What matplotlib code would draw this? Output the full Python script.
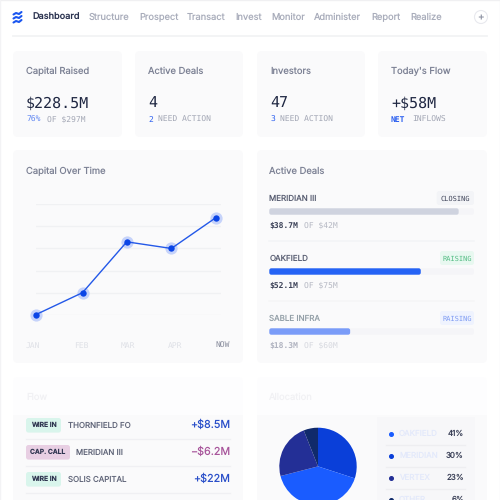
# recreate fund dashboard mockup
import matplotlib
matplotlib.use("Agg")
import matplotlib.pyplot as plt
from matplotlib.patches import FancyBboxPatch, Circle

plt.rcParams["text.hinting"] = "no_hinting"
plt.rcParams["text.hinting_factor"] = 1

SANS = "Inter"
MONO = "DejaVu Sans Mono"
PX = 0.72  # px -> pt at dpi 100

# nav
nav_items = ["Dashboard", "Structure", "Prospect", "Transact", "Invest", "Monitor", "Administer", "Report", "Realize"]

# stat cards
stat_titles = ["Capital Raised", "Active Deals", "Investors", "Today's Flow"]
stat_values = ["$228.5M", "4", "47", "+$58M"]
stat_accent = ["76%", "2", "3", "NET"]
stat_rest = ["OF $297M", "NEED ACTION", "NEED ACTION", "INFLOWS"]

# line chart
months = ["JAN", "FEB", "MAR", "APR", "NOW"]
month_pos = [0, 1.04, 2.02, 3.01, 4.0]
capital = [0, 50, 165, 150, 220]
grid_levels = [0, 50, 100, 150, 200, 250]

# deals
deal_names = ["MERIDIAN III", "OAKFIELD", "SABLE INFRA"]
deal_pct = [92.5, 74, 39.5]
deal_raised = ["$38.7M", "$52.1M", "$18.3M"]
deal_target = ["OF $42M", "OF $75M", "OF $60M"]
deal_status = ["CLOSING", "RAISING", "RAISING"]

# flow
flow_types = ["WIRE IN", "CAP. CALL", "WIRE IN"]
flow_names = ["THORNFIELD FO", "MERIDIAN III", "SOLIS CAPITAL"]
flow_amounts = ["+$8.5M", "\u2212$6.2M", "+$22M"]

# allocation
alloc_names = ["OAKFIELD", "MERIDIAN", "VERTEX", "OTHER"]
alloc_legend_pct = ["41%", "30%", "23%", "6%"]
pie_values = [30, 41, 23, 6]

fig = plt.figure(figsize=(5, 5), dpi=100, facecolor="white")
page = fig.add_axes([0, 0, 1, 1])
page.set_xlim(0, 500)
page.set_ylim(500, 0)
page.axis("off")


def box(x0, y0, x1, y1, color, r=5, z=1):
    page.add_patch(FancyBboxPatch((x0, y0), x1 - x0, y1 - y0, boxstyle=f"round,pad=0,rounding_size={r}",
                                  fc=color, ec="none", zorder=z))


def txt(x, y, s, px, color, font=SANS, weight="normal", ha="left", z=5):
    # mono glyphs sit a bit high with va=center
    if font == MONO:
        y += 0.8
    return page.text(x, y, s, fontsize=px * PX, color=color, family=font, weight=weight,
                     ha=ha, va="center", zorder=z)


def sub_axes(x0, y0, x1, y1):
    # axes placed by pixel box, y measured from the top
    ax = fig.add_axes([x0 / 500, 1 - y1 / 500, (x1 - x0) / 500, (y1 - y0) / 500])
    ax.patch.set_alpha(0)
    for s in ax.spines.values():
        s.set_visible(False)
    ax.tick_params(length=0, labelbottom=False, labelleft=False)
    return ax


# page edge
page.plot([0, 500], [0.4, 0.4], color="#f0f0f2", lw=1)
page.plot([0.4, 0.4], [0, 500], color="#f3f3f5", lw=1)
page.plot([499.6, 499.6], [0, 500], color="#f3f3f5", lw=1)

# nav bar
for dy in [-4, 0, 4]:
    page.plot([13.5, 16, 19, 21.5], [18.5 + dy, 17 + dy, 18 + dy, 16 + dy], color="#1a56f0", lw=1.5, solid_capstyle="round")
nav_x = [32, 89, 139, 187, 235, 271, 314, 371, 410]
for i, (x, s) in enumerate(zip(nav_x, nav_items)):
    if i == 0:
        txt(x, 17, s, 9.1, "#2b3350", weight="medium")
    else:
        txt(x, 17, s, 9.3, "#a9adbb")
page.plot([13, 487], [36, 36], color="#f2f3f5", lw=1.3)
page.add_patch(Circle((481, 17), 6.5, fc="white", ec="#e8e9ee", lw=0.8))
txt(481, 16.7, "+", 10, "#8d92a3", ha="center")

# stat cards
stat_x = [(13, 122), (135, 243), (257, 365), (378, 487)]
for (x0, x1), title, val, acc, rest in zip(stat_x, stat_titles, stat_values, stat_accent, stat_rest):
    box(x0, 51, x1, 137, "#fafafb")
    txt(x0 + 13, 71, title, 9.4, "#7d8295")
    txt(x0 + 13, 102.5, val, 14.6, "#1f2742", font=MONO)
    txt(x0 + 13, 118.5, acc, 8.5, "#5f86f2" if acc == "76%" else "#2f62f0", font=MONO, weight="bold" if acc == "NET" else "normal")
    txt(x0 + 13 + 5.2 * (len(acc) + 1), 118.5, rest, 8.5, "#a3a7b5", font=MONO)

# chart cards
box(13, 150, 243, 363, "#fafafb")
box(257, 150, 487, 363, "#fafafb")
txt(26, 171, "Capital Over Time", 9.4, "#7d8295")
txt(269, 171, "Active Deals", 9.4, "#7d8295")

# line chart
ax = sub_axes(35.7, 204.3, 220.7, 314.7)
ax.set_xlim(0, 4.104)
ax.set_ylim(0, 250)
ax.set_yticks(grid_levels)
ax.set_xticks([])
ax.grid(axis="y", color="#f0f1f3", lw=0.9)
ax.set_axisbelow(True)
ax.plot(month_pos, capital, ls="none", marker="o", ms=8.8, mfc="#c6d3fa", mec="none", clip_on=False, zorder=2)
ax.plot(month_pos, capital, color="#2358e8", lw=1.0, zorder=3)
ax.plot(month_pos, capital, ls="none", marker="o", ms=4.6, mfc="#0b45e6", mec="none", clip_on=False, zorder=4)
label_x = [33, 81, 128, 175.5, 223]
for x, m in zip(label_x, months):
    txt(x, 344.7, m, 7.8, "#8a8e9e" if m == "NOW" else "#dfe1e7", font=MONO, ha="center")

# deal bars
bx = sub_axes(269.3, 181.5, 474, 361.5)
bx.set_xlim(0, 100)
bx.set_ylim(2.5, -0.5)
bar_colors = ["#cfd3df", "#2563f5", "#7a9cf8"]
bars = bx.barh(range(3), [100, 100, 100], height=0.107, color="none")
aspect = (180 / 3) ** -1 * (204.7 / 100)
for rect, pct, col in zip(bars, deal_pct, bar_colors):
    x, y, w, h = rect.get_bbox().bounds
    bx.add_patch(FancyBboxPatch((x, y), w, h, boxstyle="round,pad=0,rounding_size=1", mutation_aspect=aspect,
                                fc="#f5f5f8", ec="none", zorder=2))
    bx.add_patch(FancyBboxPatch((x, y), pct, h, boxstyle="round,pad=0,rounding_size=1", mutation_aspect=aspect,
                                fc=col, ec="none", zorder=3))

name_col = ["#5a5f73", "#5a5f73", "#94a0a8"]
raised_col = ["#3c4258", "#3c4258", "#b0b3c0"]
target_col = ["#b5b8c3", "#b5b8c3", "#d6d8df"]
pill_fill = ["#f3f4f7", "#e8f8f0", "#eff3fe"]
pill_text = ["#3f4459", "#55bd85", "#7f9cf3"]
pill_left = [436.7, 440, 440]
for i in range(3):
    yy = 198.5 + 60 * i
    txt(269.3, yy, deal_names[i], 8.0, name_col[i])
    box(pill_left[i], yy - 7.5, 474, yy + 6.5, pill_fill[i], r=2.5, z=3)
    txt((pill_left[i] + 474) / 2, yy - 0.5, deal_status[i], 7.2, pill_text[i], font=MONO, ha="center")
    txt(269.3, yy + 26, deal_raised[i], 7.9, raised_col[i], font=MONO, weight="bold")
    txt(304, yy + 26, deal_target[i], 7.9, target_col[i], font=MONO)
page.plot([269.3, 474], [240.5, 240.5], color="#f3f4f6", lw=1.1, zorder=2)
page.plot([269.3, 474], [300.5, 300.5], color="#f5f5f7", lw=1.1, zorder=2)

# faded header of lower cards
box(13, 377, 243, 500, "#fdfdfe", r=5)
box(257, 377, 487, 500, "#fdfdfe", r=5)
txt(26, 397, "Flow", 9.4, "#f1f1f4")
txt(269, 397, "Allocation", 9.4, "#f1f1f4")
page.fill_between([13, 243], 415, 500, color="#fafafb", lw=0, zorder=1.5)
page.fill_between([257, 487], 415, 500, color="#fafafb", lw=0, zorder=1.5)

# flow rows
pill_right = [61, 70, 61]
pill_col = ["#d9f5ec", "#e8cfe3", "#d9f5ec"]
name_x = [68, 76.5, 68]
amount_col = ["#2a4fc9", "#a8559b", "#2a4fc9"]
for i in range(3):
    yy = 425.3 + 27 * i
    box(26, yy - 7.3, pill_right[i], yy + 7.3, pill_col[i], r=2.5, z=3)
    txt((26 + pill_right[i]) / 2, yy, flow_types[i], 6.7, "#2f3550", weight="semibold", ha="center")
    txt(name_x[i], yy + 0.5, flow_names[i], 7.9, "#62677a")
    txt(230, yy, flow_amounts[i], 10.8, amount_col[i], ha="right")
    page.plot([26, 230], [yy + 13.3, yy + 13.3], color="#f0f0f3", lw=1, zorder=2)

# allocation
pie_ax = sub_axes(279.3, 427.7, 356.7, 505.1)
pie_ax.pie(pie_values, colors=["#0a3fd9", "#1a5cff", "#232f96", "#102a6b"], startangle=90, counterclock=False, radius=1)
pie_ax.set_xlim(-1, 1)
pie_ax.set_ylim(-1, 1)

page.fill_between([376.7, 475], 417, 500, color="#f7f7f9", lw=0, zorder=2)
dot_col = ["#1a5cff", "#0a3fd9", "#232f96", "#102a6b"]
for i in range(4):
    yy = 434 + 22 * i
    page.plot([391], [yy], marker="o", ms=2.6, color=dot_col[i], zorder=5)
    txt(399, yy, alloc_names[i], 8.0, "#e3e9fb")
    txt(464, yy, alloc_legend_pct[i], 8.0, "#3a4057", ha="right")
    if i < 3:
        page.plot([386, 465], [yy + 10.5, yy + 10.5], color="#eeeef1", lw=0.9, zorder=3)

fig.savefig("out.png", dpi=100, facecolor="white")
